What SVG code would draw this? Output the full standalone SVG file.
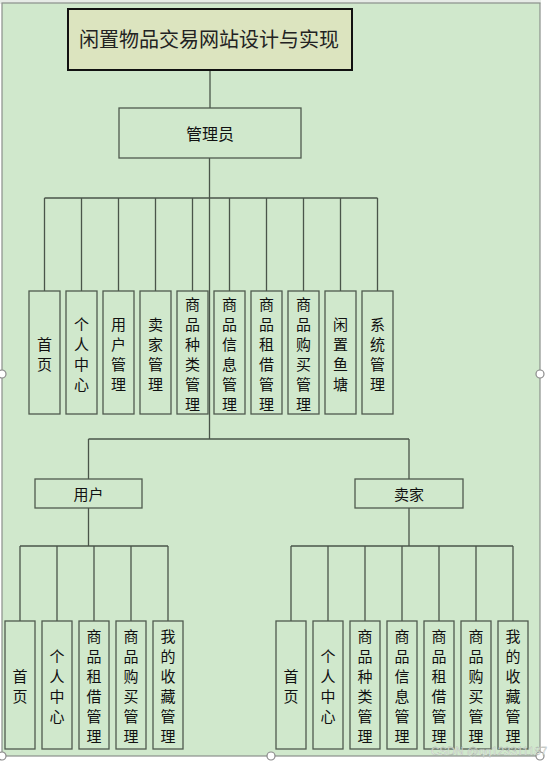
<svg xmlns="http://www.w3.org/2000/svg" width="551" height="763" viewBox="0 0 551 763">
<style>
.bg{fill:#d0e8cc;stroke:#8a8f8a;stroke-width:1.2}
.box{fill:#d0e8cc;stroke:#4f5a4f;stroke-width:1.3}
.title{fill:#dce4bf;stroke:#111;stroke-width:2}
.c{fill:none;stroke:#4a554a;stroke-width:1.3}
.t{font-family:"Noto Sans CJK SC","Noto Sans",sans-serif;font-size:15px;fill:#111;text-anchor:middle;dominant-baseline:central}
.tt{font-family:"Noto Sans CJK SC","Noto Sans",sans-serif;font-size:20px;fill:#222;text-anchor:middle;dominant-baseline:central}
.h{fill:#fff;stroke:#8a8a8a;stroke-width:1.2}
.wm{font-family:"Liberation Sans",sans-serif;font-size:11.5px;fill:#ffffff;fill-opacity:0.75;stroke:#9aa59a;stroke-width:0.3}
</style>
<rect x="0" y="0" width="551" height="763" fill="#ffffff"/>
<rect x="0" y="0" width="541" height="4" fill="#e6ebe6"/>
<rect class="bg" x="2" y="3" width="538" height="753"/>

<g id="connectors">
<path class="c" d="M210 70V108"/>
<path class="c" d="M209.5 158V439"/>
<path class="c" d="M44.5 198H377.5"/>
<path class="c" d="M44.5 198V291M81.5 198V291M118.5 198V291M155.5 198V291M192.5 198V291M229.5 198V291M266.5 198V291M303.5 198V291M340.5 198V291M377.5 198V291"/>
<path class="c" d="M88.5 439H409M88.5 439V479M409 439V479"/>
<path class="c" d="M88.5 508V546M20 546H168M20 546V621M57 546V621M94 546V621M131 546V621M168 546V621"/>
<path class="c" d="M409 508V546M291 546H513M291 546V621M328 546V621M365 546V621M402 546V621M439 546V621M476 546V621M513 546V621"/>
</g>

<g id="title"><rect class="title" x="68" y="9" width="284" height="61"/><text class="tt" x="209" y="38">闲置物品交易网站设计与实现</text></g>
<g id="admin"><rect class="box" x="119" y="108" width="182" height="50"/><text class="t" style="font-size:16px" x="210" y="133">管理员</text></g>

<g id="a1"><rect class="box" x="29" y="291" width="31" height="123"/><text class="t"><tspan x="44.5" y="342.5">首</tspan><tspan x="44.5" y="362.5">页</tspan></text></g>
<g id="a2"><rect class="box" x="66" y="291" width="31" height="123"/><text class="t"><tspan x="81.5" y="322.5">个</tspan><tspan x="81.5" y="342.5">人</tspan><tspan x="81.5" y="362.5">中</tspan><tspan x="81.5" y="382.5">心</tspan></text></g>
<g id="a3"><rect class="box" x="103" y="291" width="31" height="123"/><text class="t"><tspan x="118.5" y="322.5">用</tspan><tspan x="118.5" y="342.5">户</tspan><tspan x="118.5" y="362.5">管</tspan><tspan x="118.5" y="382.5">理</tspan></text></g>
<g id="a4"><rect class="box" x="140" y="291" width="31" height="123"/><text class="t"><tspan x="155.5" y="322.5">卖</tspan><tspan x="155.5" y="342.5">家</tspan><tspan x="155.5" y="362.5">管</tspan><tspan x="155.5" y="382.5">理</tspan></text></g>
<g id="a5"><rect class="box" x="177" y="291" width="31" height="123"/><text class="t"><tspan x="192.5" y="302.5">商</tspan><tspan x="192.5" y="322.5">品</tspan><tspan x="192.5" y="342.5">种</tspan><tspan x="192.5" y="362.5">类</tspan><tspan x="192.5" y="382.5">管</tspan><tspan x="192.5" y="402.5">理</tspan></text></g>
<g id="a6"><rect class="box" x="214" y="291" width="31" height="123"/><text class="t"><tspan x="229.5" y="302.5">商</tspan><tspan x="229.5" y="322.5">品</tspan><tspan x="229.5" y="342.5">信</tspan><tspan x="229.5" y="362.5">息</tspan><tspan x="229.5" y="382.5">管</tspan><tspan x="229.5" y="402.5">理</tspan></text></g>
<g id="a7"><rect class="box" x="251" y="291" width="31" height="123"/><text class="t"><tspan x="266.5" y="302.5">商</tspan><tspan x="266.5" y="322.5">品</tspan><tspan x="266.5" y="342.5">租</tspan><tspan x="266.5" y="362.5">借</tspan><tspan x="266.5" y="382.5">管</tspan><tspan x="266.5" y="402.5">理</tspan></text></g>
<g id="a8"><rect class="box" x="288" y="291" width="31" height="123"/><text class="t"><tspan x="303.5" y="302.5">商</tspan><tspan x="303.5" y="322.5">品</tspan><tspan x="303.5" y="342.5">购</tspan><tspan x="303.5" y="362.5">买</tspan><tspan x="303.5" y="382.5">管</tspan><tspan x="303.5" y="402.5">理</tspan></text></g>
<g id="a9"><rect class="box" x="325" y="291" width="31" height="123"/><text class="t"><tspan x="340.5" y="322.5">闲</tspan><tspan x="340.5" y="342.5">置</tspan><tspan x="340.5" y="362.5">鱼</tspan><tspan x="340.5" y="382.5">塘</tspan></text></g>
<g id="a10"><rect class="box" x="362" y="291" width="31" height="123"/><text class="t"><tspan x="377.5" y="322.5">系</tspan><tspan x="377.5" y="342.5">统</tspan><tspan x="377.5" y="362.5">管</tspan><tspan x="377.5" y="382.5">理</tspan></text></g>

<g id="user"><rect class="box" x="35" y="479" width="107" height="29"/><text class="t" x="88.5" y="493.5">用户</text></g>
<g id="seller"><rect class="box" x="355" y="479" width="108" height="29"/><text class="t" x="409" y="493.5">卖家</text></g>

<g id="u1"><rect class="box" x="5" y="621" width="30" height="128"/><text class="t"><tspan x="20" y="675">首</tspan><tspan x="20" y="695">页</tspan></text></g>
<g id="u2"><rect class="box" x="42" y="621" width="30" height="128"/><text class="t"><tspan x="57" y="655">个</tspan><tspan x="57" y="675">人</tspan><tspan x="57" y="695">中</tspan><tspan x="57" y="715">心</tspan></text></g>
<g id="u3"><rect class="box" x="79" y="621" width="30" height="128"/><text class="t"><tspan x="94" y="635">商</tspan><tspan x="94" y="655">品</tspan><tspan x="94" y="675">租</tspan><tspan x="94" y="695">借</tspan><tspan x="94" y="715">管</tspan><tspan x="94" y="735">理</tspan></text></g>
<g id="u4"><rect class="box" x="116" y="621" width="30" height="128"/><text class="t"><tspan x="131" y="635">商</tspan><tspan x="131" y="655">品</tspan><tspan x="131" y="675">购</tspan><tspan x="131" y="695">买</tspan><tspan x="131" y="715">管</tspan><tspan x="131" y="735">理</tspan></text></g>
<g id="u5"><rect class="box" x="153" y="621" width="30" height="128"/><text class="t"><tspan x="168" y="635">我</tspan><tspan x="168" y="655">的</tspan><tspan x="168" y="675">收</tspan><tspan x="168" y="695">藏</tspan><tspan x="168" y="715">管</tspan><tspan x="168" y="735">理</tspan></text></g>

<g id="s1"><rect class="box" x="276" y="621" width="30" height="128"/><text class="t"><tspan x="291" y="675">首</tspan><tspan x="291" y="695">页</tspan></text></g>
<g id="s2"><rect class="box" x="313" y="621" width="30" height="128"/><text class="t"><tspan x="328" y="655">个</tspan><tspan x="328" y="675">人</tspan><tspan x="328" y="695">中</tspan><tspan x="328" y="715">心</tspan></text></g>
<g id="s3"><rect class="box" x="350" y="621" width="30" height="128"/><text class="t"><tspan x="365" y="635">商</tspan><tspan x="365" y="655">品</tspan><tspan x="365" y="675">种</tspan><tspan x="365" y="695">类</tspan><tspan x="365" y="715">管</tspan><tspan x="365" y="735">理</tspan></text></g>
<g id="s4"><rect class="box" x="387" y="621" width="30" height="128"/><text class="t"><tspan x="402" y="635">商</tspan><tspan x="402" y="655">品</tspan><tspan x="402" y="675">信</tspan><tspan x="402" y="695">息</tspan><tspan x="402" y="715">管</tspan><tspan x="402" y="735">理</tspan></text></g>
<g id="s5"><rect class="box" x="424" y="621" width="30" height="128"/><text class="t"><tspan x="439" y="635">商</tspan><tspan x="439" y="655">品</tspan><tspan x="439" y="675">租</tspan><tspan x="439" y="695">借</tspan><tspan x="439" y="715">管</tspan><tspan x="439" y="735">理</tspan></text></g>
<g id="s6"><rect class="box" x="461" y="621" width="30" height="128"/><text class="t"><tspan x="476" y="635">商</tspan><tspan x="476" y="655">品</tspan><tspan x="476" y="675">购</tspan><tspan x="476" y="695">买</tspan><tspan x="476" y="715">管</tspan><tspan x="476" y="735">理</tspan></text></g>
<g id="s7"><rect class="box" x="498" y="621" width="30" height="128"/><text class="t"><tspan x="513" y="635">我</tspan><tspan x="513" y="655">的</tspan><tspan x="513" y="675">收</tspan><tspan x="513" y="695">藏</tspan><tspan x="513" y="715">管</tspan><tspan x="513" y="735">理</tspan></text></g>

<g id="handles">
<circle class="h" cx="2" cy="374" r="4"/>
<circle class="h" cx="540" cy="374" r="4"/>
<circle class="h" cx="2" cy="756" r="4"/>
<circle class="h" cx="271" cy="756" r="4"/>
<circle class="h" cx="540" cy="756" r="4"/>
</g>
<text class="wm" x="431" y="755">CSDN @qq123311187</text>
</svg>
